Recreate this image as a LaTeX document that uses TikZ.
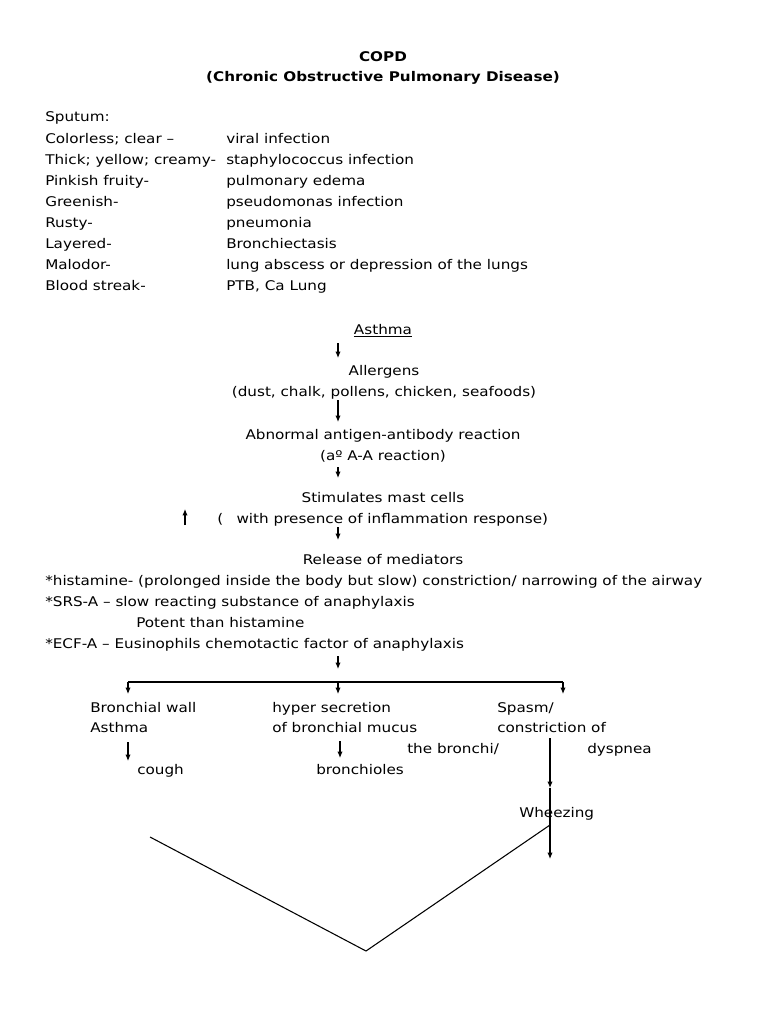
\documentclass[tikz,border=0pt]{standalone}
\usepackage{fontspec}
\setmainfont[FakeStretch=1.14]{DejaVu Sans}
\usetikzlibrary{arrows.meta}

\tikzset{
  txt/.style={anchor=base west, inner sep=0pt, font=\fontsize{10}{12}\selectfont},
  ctxt/.style={anchor=base, inner sep=0pt, font=\fontsize{10}{12}\selectfont},
  flow/.style={-{Latex[length=4.8pt,width=4pt]}, line width=0.8pt},
  plain/.style={line width=0.8pt}
}

\begin{document}
\begin{tikzpicture}[x=0.75pt, y=-0.75pt]
\fill[white] (0,0) rectangle (768,1024);
\useasboundingbox (0,0) rectangle (768,1024);

%title
\node[ctxt, font=\fontsize{10}{12}\selectfont\bfseries] (copd) at (383,62) {COPD};
\node[ctxt, font=\fontsize{10}{12}\selectfont\bfseries] (copdlong) at (383,82) {(Chronic Obstructive Pulmonary Disease)};

%sputum table
\node[txt] (sputum) at (45,122) {Sputum:};
\node[txt] (colorless) at (45,143) {Colorless; clear --};
\node[txt] (thick) at (45,164) {Thick; yellow; creamy-};
\node[txt] (pinkish) at (45,185) {Pinkish fruity-};
\node[txt] (greenish) at (45,206) {Greenish-};
\node[txt] (rusty) at (45,227) {Rusty-};
\node[txt] (layered) at (45,248) {Layered-};
\node[txt] (malodor) at (45,269) {Malodor-};
\node[txt] (blood) at (45,290) {Blood streak-};

\node[txt] (viral) at (226,143) {viral infection};
\node[txt] (staph) at (226,164) {staphylococcus infection};
\node[txt] (edema) at (226,185) {pulmonary edema};
\node[txt] (pseudo) at (226,206) {pseudomonas infection};
\node[txt] (pneumonia) at (226,227) {pneumonia};
\node[txt] (bronchiect) at (226,248) {Bronchiectasis};
\node[txt] (abscess) at (226,269) {lung abscess or depression of the lungs};
\node[txt] (ptb) at (226,290) {PTB, Ca Lung};

%asthma chain
\node[ctxt] (asthma) at (383,334) {\underline{Asthma}};
\node[ctxt] (allergens) at (384,375) {Allergens};
\node[ctxt] (dust) at (384,396) {(dust, chalk, pollens, chicken, seafoods)};
\node[ctxt] (abnormal) at (383,439) {Abnormal antigen-antibody reaction};
\node[ctxt] (aa) at (383,460) {(aº A-A reaction)};
\node[ctxt] (mast) at (383,502) {Stimulates mast cells};
\node[txt] (presence) at (217,523) {(\hspace{1em}with presence of inflammation response)};
\node[ctxt] (release) at (383,564) {Release of mediators};

%mediators
\node[txt] (histamine) at (45,585) {*histamine- (prolonged inside the body but slow) constriction/ narrowing of the airway};
\node[txt] (srsa) at (45,606) {*SRS-A -- slow reacting substance of anaphylaxis};
\node[txt] (potent) at (136,627) {Potent than histamine};
\node[txt] (ecfa) at (45,648) {*ECF-A -- Eusinophils chemotactic factor of anaphylaxis};

%branches
\node[txt] (wall) at (90,712) {Bronchial wall};
\node[txt] (wallasthma) at (90,732) {Asthma};
\node[txt] (cough) at (137,774) {cough};
\node[txt] (hyper) at (272,712) {hyper secretion};
\node[txt] (mucus) at (272,732) {of bronchial mucus};
\node[txt] (bronchioles) at (316,774) {bronchioles};
\node[txt] (spasm) at (497,712) {Spasm/};
\node[txt] (constr) at (497,732) {constriction of};
\node[txt] (bronchi) at (407,753) {the bronchi/};
\node[txt] (dyspnea) at (587,753) {dyspnea};
\node[txt] (wheezing) at (519,817) {Wheezing};

%arrow ends
\coordinate (a1) at (338,343); \coordinate (b1) at (338,358);
\coordinate (a2) at (338,400); \coordinate (b2) at (338,422);
\coordinate (a3) at (338,467); \coordinate (b3) at (338,478);
\coordinate (a4) at (338,527); \coordinate (b4) at (338,540);
\coordinate (up0) at (185,525); \coordinate (up1) at (185,509);
\coordinate (a5) at (338,656); \coordinate (b5) at (338,669);
\coordinate (split) at (338,682);
\coordinate (left) at (128,682); \coordinate (right) at (563,682);
\coordinate (leftend) at (128,694); \coordinate (midend) at (338,694); \coordinate (rightend) at (563,694);
\coordinate (c1) at (128,742); \coordinate (d1) at (128,761);
\coordinate (c2) at (340,741); \coordinate (d2) at (340,758);
\coordinate (s0) at (550,738); \coordinate (s1) at (550,788); \coordinate (s2) at (550,859);
\coordinate (vl) at (150,837); \coordinate (vb) at (366,951); \coordinate (vr) at (550,825);

\draw[flow] (a1) -- (b1);
\draw[flow] (a2) -- (b2);
\draw[flow] (a3) -- (b3);
\draw[flow] (a4) -- (b4);
\draw[flow] (up0) -- (up1);
\draw[flow] (a5) -- (b5);
\draw[plain] (left) -- (right);
\draw[flow] (left) -- (leftend);
\draw[flow] (split) -- (midend);
\draw[flow] (right) -- (rightend);
\draw[flow] (c1) -- (d1);
\draw[flow] (c2) -- (d2);
\draw[flow] (s0) -- (s1);
\draw[flow] (s1) -- (s2);
\draw[plain] (vl) -- (vb) -- (vr);
\end{tikzpicture}
\end{document}
